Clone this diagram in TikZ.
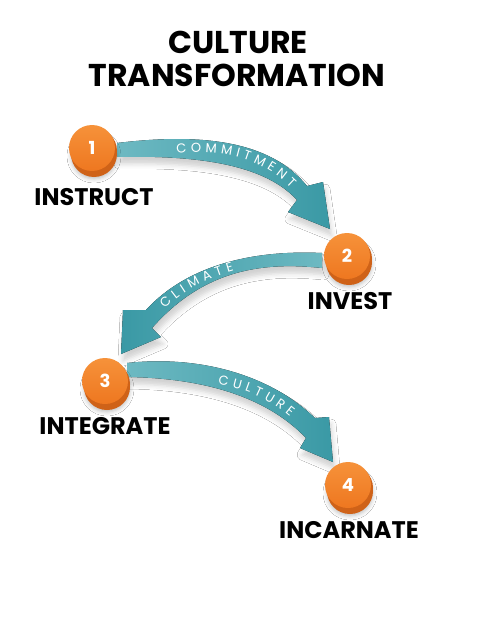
\documentclass[tikz,border=0pt]{standalone}
\usepackage{fontspec}
\setmainfont{Poppins}
\newfontfamily\arrowfont{Poppins}
\usetikzlibrary{decorations.text,shadows,shadows.blur}
\definecolor{teallight}{HTML}{6DB9C2}
\definecolor{tealmid}{HTML}{4CA5AF}
\definecolor{tealdark}{HTML}{3A99A5}
\definecolor{org}{HTML}{EE7720}
\definecolor{orglight}{HTML}{F6923A}
\definecolor{orgdark}{HTML}{CF6218}
\begin{document}
\begin{tikzpicture}[x=1pt,y=-1pt,
  lbl/.style={font=\fontsize{24}{24}\selectfont\bfseries, text=black, inner sep=0pt},
  ttl/.style={font=\fontsize{31.5}{31.5}\selectfont\bfseries, text=black, inner sep=0pt},
  disc/.style={circle, minimum size=46pt, inner sep=0pt,
    blur shadow={shadow yshift=-8pt, shadow xshift=2pt, shadow opacity=25, shadow blur radius=4pt},
    general shadow={shadow yshift=-6pt, fill=orgdark},
    general shadow={shadow yshift=-3pt, fill=orgdark},
    top color=orglight, bottom color=org,
    font=\fontsize{18}{18}\selectfont\bfseries, text=white},
  fatarrow/.style={blur shadow={shadow yshift=-7pt, shadow xshift=2pt, shadow opacity=18, shadow blur radius=5pt}},
  arrowtext/.style={decorate, decoration={text along path, text align=fit to path, text color=white,
    text={#1}}}
]
\useasboundingbox (0,0) rectangle (480,618);
\fill[white] (0,0) rectangle (480,618);

% title
\node[ttl] (t1) at (238,42) {CULTURE};
\node[ttl] (t2) at (237,75) {TRANSFORMATION};

% arrows
\fill[fatarrow, left color=teallight, right color=tealdark]
  (117,143) .. controls (200,133) and (270,140) .. (307,186)
  -- (323,182) -- (330,229) -- (288,212) -- (297,200)
  .. controls (265,165) and (200,155) .. (117,157) -- cycle;
\fill[fatarrow, left color=tealdark, right color=teallight]
  (322,253) .. controls (260,250) and (190,262) .. (146,310)
  -- (123,310) -- (121,354) -- (161,337) -- (152,328)
  .. controls (205,268) and (265,262) .. (322,268) -- cycle;
\fill[fatarrow, left color=teallight, right color=tealdark]
  (127,363) .. controls (200,355) and (270,375) .. (315,418)
  -- (329,417) -- (333,462) -- (300,448) -- (306,438)
  .. controls (265,395) and (200,378) .. (127,377) -- cycle;

% arrow texts
\begingroup
\arrowfont\fontsize{13}{13}\selectfont
\path[arrowtext=COMMITMENT] (177,154) .. controls (220,148) and (260,157) .. (291,188);
\path[arrowtext=CLIMATE] (165,309) .. controls (181,292) and (203,280) .. (234,271);
\path[arrowtext=CULTURE] (218,385) .. controls (240,387) and (265,396) .. (290,417);
\endgroup

% discs
\node[disc] (d1) at (92,148) {1};
\node[disc] (d2) at (347,256) {2};
\node[disc] (d3) at (105,381) {3};
\node[disc] (d4) at (348,485) {4};

% labels
\node[lbl] (l1) at (94,197) {INSTRUCT};
\node[lbl] (l2) at (350,301) {INVEST};
\node[lbl] (l3) at (105,426) {INTEGRATE};
\node[lbl] (l4) at (349,530) {INCARNATE};
\end{tikzpicture}
\end{document}
